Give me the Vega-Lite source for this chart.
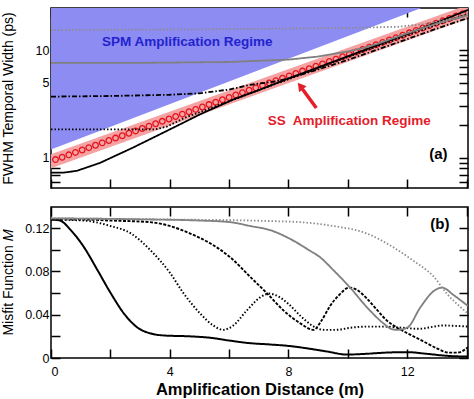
{
  "$schema": "https://vega.github.io/schema/vega-lite/v6.json",
  "autosize": {"type": "pad"},
  "padding": {"left": 0, "top": 6, "right": 5, "bottom": 0},
  "background": "white",
  "spacing": 15,
  "config": {
    "view": {"stroke": "black", "strokeWidth": 1.5},
    "font": "Liberation Sans",
    "axis": {
      "domain": false, "grid": false,
      "tickColor": "black", "tickWidth": 1.5, "tickSize": -9,
      "labelFont": "Liberation Sans", "labelFontSize": 12.5, "labelColor": "black",
      "titleFont": "Liberation Sans", "titleFontSize": 14, "titleFontWeight": "normal", "titleColor": "black"
    }
  },
  "resolve": {"scale": {"color": "independent", "strokeDash": "independent", "strokeWidth": "independent"}},
  "datasets": {
    "blue": [{"x": 0, "lo": 1.2, "hi": 40}, {"x": 14.05, "lo": 35.8, "hi": 40}],
    "band": [{"x": 0, "lo": 0.804, "hi": 1.082}, {"x": 7, "lo": 3.935, "hi": 5.295}, {"x": 14.05, "lo": 19.5, "hi": 26.2}],
    "circles": [
      {"x": 0.15, "y": 0.966}, {"x": 0.375, "y": 1.016}, {"x": 0.6, "y": 1.069}, {"x": 0.825, "y": 1.126},
      {"x": 1.05, "y": 1.184}, {"x": 1.275, "y": 1.246}, {"x": 1.5, "y": 1.311}, {"x": 1.725, "y": 1.38},
      {"x": 1.95, "y": 1.453}, {"x": 2.175, "y": 1.529}, {"x": 2.4, "y": 1.608}, {"x": 2.625, "y": 1.693},
      {"x": 2.85, "y": 1.781}, {"x": 3.075, "y": 1.875}, {"x": 3.3, "y": 1.973}, {"x": 3.525, "y": 2.076},
      {"x": 3.75, "y": 2.185}, {"x": 3.975, "y": 2.299}, {"x": 4.2, "y": 2.42}, {"x": 4.425, "y": 2.546},
      {"x": 4.65, "y": 2.679}, {"x": 4.875, "y": 2.82}, {"x": 5.1, "y": 2.967}, {"x": 5.325, "y": 3.123},
      {"x": 5.55, "y": 3.286}, {"x": 5.775, "y": 3.458}, {"x": 6.0, "y": 3.639}, {"x": 6.225, "y": 3.83},
      {"x": 6.45, "y": 4.03}, {"x": 6.675, "y": 4.241}, {"x": 6.9, "y": 4.463}, {"x": 7.125, "y": 4.697},
      {"x": 7.35, "y": 4.943}, {"x": 7.575, "y": 5.202}, {"x": 7.8, "y": 5.474}, {"x": 8.025, "y": 5.761},
      {"x": 8.25, "y": 6.062}, {"x": 8.475, "y": 6.38}, {"x": 8.7, "y": 6.714}, {"x": 8.925, "y": 7.065},
      {"x": 9.15, "y": 7.435}, {"x": 9.375, "y": 7.824}, {"x": 9.6, "y": 8.234}, {"x": 9.825, "y": 8.665},
      {"x": 10.05, "y": 9.118}, {"x": 10.275, "y": 9.596}, {"x": 10.5, "y": 10.1}, {"x": 10.725, "y": 10.63},
      {"x": 10.95, "y": 11.18}, {"x": 11.175, "y": 11.77}, {"x": 11.4, "y": 12.38}, {"x": 11.625, "y": 13.03},
      {"x": 11.85, "y": 13.72}, {"x": 12.075, "y": 14.43}, {"x": 12.3, "y": 15.19}, {"x": 12.525, "y": 15.99},
      {"x": 12.75, "y": 16.82}, {"x": 12.975, "y": 17.7}, {"x": 13.2, "y": 18.63}, {"x": 13.425, "y": 19.61},
      {"x": 13.65, "y": 20.63}, {"x": 13.875, "y": 21.71}
    ],
    "width": [
      {"s": "A", "x": 0, "y": 0.73}, {"s": "A", "x": 0.4, "y": 0.73}, {"s": "A", "x": 0.87, "y": 0.76}, {"s": "A", "x": 1.65, "y": 0.9},
      {"s": "A", "x": 2.77, "y": 1.25}, {"s": "A", "x": 3.9, "y": 1.78}, {"s": "A", "x": 5.03, "y": 2.54}, {"s": "A", "x": 6.15, "y": 3.49},
      {"s": "A", "x": 7, "y": 4.25}, {"s": "A", "x": 8, "y": 5.45}, {"s": "A", "x": 9, "y": 6.9}, {"s": "A", "x": 10, "y": 8.75},
      {"s": "A", "x": 11, "y": 11.1}, {"s": "A", "x": 12, "y": 14.1}, {"s": "A", "x": 13, "y": 18}, {"s": "A", "x": 14.05, "y": 23.5},
      {"s": "B", "x": 0, "y": 1.84}, {"s": "B", "x": 3.5, "y": 1.84}, {"s": "B", "x": 3.9, "y": 1.95}, {"s": "B", "x": 4.5, "y": 2.35},
      {"s": "B", "x": 5, "y": 2.65}, {"s": "B", "x": 6, "y": 3.35}, {"s": "B", "x": 7, "y": 4.25}, {"s": "B", "x": 8, "y": 5.35},
      {"s": "B", "x": 9, "y": 6.8}, {"s": "B", "x": 10, "y": 8.6}, {"s": "B", "x": 11, "y": 10.8}, {"s": "B", "x": 12, "y": 13.6},
      {"s": "B", "x": 13, "y": 17.2}, {"s": "B", "x": 14.05, "y": 21.5},
      {"s": "C", "x": 0, "y": 3.7}, {"s": "C", "x": 2, "y": 3.75}, {"s": "C", "x": 4, "y": 3.85}, {"s": "C", "x": 5, "y": 3.97},
      {"s": "C", "x": 6, "y": 4.3}, {"s": "C", "x": 6.7, "y": 4.75}, {"s": "C", "x": 7.5, "y": 5.1}, {"s": "C", "x": 8, "y": 5.45},
      {"s": "C", "x": 9, "y": 6.6}, {"s": "C", "x": 10, "y": 8.1}, {"s": "C", "x": 11, "y": 10.1}, {"s": "C", "x": 12, "y": 12.6},
      {"s": "C", "x": 13, "y": 15.8}, {"s": "C", "x": 14.05, "y": 19.8},
      {"s": "D", "x": 0, "y": 7.6}, {"s": "D", "x": 3, "y": 7.6}, {"s": "D", "x": 6, "y": 7.75}, {"s": "D", "x": 8, "y": 8.15},
      {"s": "D", "x": 9, "y": 8.7}, {"s": "D", "x": 10, "y": 9.7}, {"s": "D", "x": 10.5, "y": 10.4}, {"s": "D", "x": 11, "y": 11.4},
      {"s": "D", "x": 12, "y": 14.3}, {"s": "D", "x": 13, "y": 17.6}, {"s": "D", "x": 14.05, "y": 21},
      {"s": "E", "x": 0, "y": 15.3}, {"s": "E", "x": 6, "y": 15.6}, {"s": "E", "x": 10, "y": 16}, {"s": "E", "x": 11.66, "y": 16.4},
      {"s": "E", "x": 12.5, "y": 17.3}, {"s": "E", "x": 13.45, "y": 19.3}, {"s": "E", "x": 14.05, "y": 22}
    ],
    "misfit": [
      {"s": "A", "x": 0, "y": 0.128}, {"s": "A", "x": 0.3, "y": 0.127}, {"s": "A", "x": 0.67, "y": 0.118}, {"s": "A", "x": 1.12, "y": 0.102},
      {"s": "A", "x": 1.57, "y": 0.081}, {"s": "A", "x": 2.01, "y": 0.06}, {"s": "A", "x": 2.46, "y": 0.041}, {"s": "A", "x": 2.92, "y": 0.028},
      {"s": "A", "x": 3.37, "y": 0.0226}, {"s": "A", "x": 3.82, "y": 0.0208}, {"s": "A", "x": 4.69, "y": 0.02}, {"s": "A", "x": 5.36, "y": 0.0187},
      {"s": "A", "x": 6.04, "y": 0.016}, {"s": "A", "x": 6.71, "y": 0.0137}, {"s": "A", "x": 7.38, "y": 0.0125}, {"s": "A", "x": 8.06, "y": 0.011},
      {"s": "A", "x": 8.73, "y": 0.0085}, {"s": "A", "x": 9.3, "y": 0.006}, {"s": "A", "x": 9.97, "y": 0.0032}, {"s": "A", "x": 10.64, "y": 0.0039},
      {"s": "A", "x": 11.3, "y": 0.005}, {"s": "A", "x": 12.0, "y": 0.0054}, {"s": "A", "x": 12.65, "y": 0.0039}, {"s": "A", "x": 13.35, "y": 0.002},
      {"s": "A", "x": 14.05, "y": 0.0013},
      {"s": "B", "x": 0, "y": 0.128}, {"s": "B", "x": 1.1, "y": 0.127}, {"s": "B", "x": 2.0, "y": 0.122}, {"s": "B", "x": 2.7, "y": 0.115},
      {"s": "B", "x": 3.37, "y": 0.099}, {"s": "B", "x": 4.0, "y": 0.079}, {"s": "B", "x": 4.46, "y": 0.06}, {"s": "B", "x": 5.03, "y": 0.041},
      {"s": "B", "x": 5.47, "y": 0.03}, {"s": "B", "x": 5.8, "y": 0.026}, {"s": "B", "x": 6.14, "y": 0.03}, {"s": "B", "x": 6.6, "y": 0.044},
      {"s": "B", "x": 7.05, "y": 0.056}, {"s": "B", "x": 7.35, "y": 0.0595}, {"s": "B", "x": 7.65, "y": 0.057}, {"s": "B", "x": 8.0, "y": 0.05},
      {"s": "B", "x": 8.4, "y": 0.039}, {"s": "B", "x": 8.8, "y": 0.03}, {"s": "B", "x": 9.2, "y": 0.026}, {"s": "B", "x": 9.6, "y": 0.026},
      {"s": "B", "x": 10.1, "y": 0.028}, {"s": "B", "x": 10.6, "y": 0.029}, {"s": "B", "x": 11.2, "y": 0.029}, {"s": "B", "x": 11.8, "y": 0.028},
      {"s": "B", "x": 12.4, "y": 0.027}, {"s": "B", "x": 13.2, "y": 0.03}, {"s": "B", "x": 14.05, "y": 0.029},
      {"s": "C", "x": 0, "y": 0.128}, {"s": "C", "x": 1, "y": 0.128}, {"s": "C", "x": 2, "y": 0.127}, {"s": "C", "x": 3.34, "y": 0.1255},
      {"s": "C", "x": 4.0, "y": 0.122}, {"s": "C", "x": 4.69, "y": 0.115}, {"s": "C", "x": 5.36, "y": 0.106}, {"s": "C", "x": 6.04, "y": 0.093},
      {"s": "C", "x": 6.71, "y": 0.075}, {"s": "C", "x": 7.27, "y": 0.06}, {"s": "C", "x": 7.83, "y": 0.044}, {"s": "C", "x": 8.4, "y": 0.032},
      {"s": "C", "x": 8.85, "y": 0.026}, {"s": "C", "x": 9.1, "y": 0.034}, {"s": "C", "x": 9.4, "y": 0.048}, {"s": "C", "x": 9.7, "y": 0.058},
      {"s": "C", "x": 10.05, "y": 0.065}, {"s": "C", "x": 10.3, "y": 0.063}, {"s": "C", "x": 10.64, "y": 0.055}, {"s": "C", "x": 11.0, "y": 0.044},
      {"s": "C", "x": 11.3, "y": 0.035}, {"s": "C", "x": 11.6, "y": 0.029}, {"s": "C", "x": 12.0, "y": 0.023}, {"s": "C", "x": 12.5, "y": 0.016},
      {"s": "C", "x": 13.0, "y": 0.009}, {"s": "C", "x": 13.4, "y": 0.005}, {"s": "C", "x": 13.7, "y": 0.005}, {"s": "C", "x": 14.05, "y": 0.01},
      {"s": "D", "x": 0, "y": 0.129}, {"s": "D", "x": 3.3, "y": 0.128}, {"s": "D", "x": 5, "y": 0.127}, {"s": "D", "x": 6.04, "y": 0.1255},
      {"s": "D", "x": 6.7, "y": 0.122}, {"s": "D", "x": 7.4, "y": 0.118}, {"s": "D", "x": 8.06, "y": 0.11}, {"s": "D", "x": 8.73, "y": 0.099},
      {"s": "D", "x": 9.07, "y": 0.093}, {"s": "D", "x": 9.52, "y": 0.081}, {"s": "D", "x": 10.08, "y": 0.065}, {"s": "D", "x": 10.64, "y": 0.047},
      {"s": "D", "x": 11.2, "y": 0.032}, {"s": "D", "x": 11.45, "y": 0.027}, {"s": "D", "x": 11.65, "y": 0.026}, {"s": "D", "x": 12.0, "y": 0.028},
      {"s": "D", "x": 12.45, "y": 0.047}, {"s": "D", "x": 12.9, "y": 0.062}, {"s": "D", "x": 13.18, "y": 0.065}, {"s": "D", "x": 13.57, "y": 0.058},
      {"s": "D", "x": 14.05, "y": 0.048},
      {"s": "E", "x": 0, "y": 0.129}, {"s": "E", "x": 4, "y": 0.128}, {"s": "E", "x": 7.4, "y": 0.1265}, {"s": "E", "x": 8.4, "y": 0.1255},
      {"s": "E", "x": 9.5, "y": 0.122}, {"s": "E", "x": 10.64, "y": 0.115}, {"s": "E", "x": 11.55, "y": 0.102}, {"s": "E", "x": 12.2, "y": 0.09},
      {"s": "E", "x": 12.9, "y": 0.075}, {"s": "E", "x": 13.35, "y": 0.059}, {"s": "E", "x": 13.8, "y": 0.047}, {"s": "E", "x": 14.05, "y": 0.041}
    ]
  },
  "vconcat": [
    {
      "width": 417, "height": 180,
      "resolve": {"axis": {"x": "independent", "y": "independent"}},
      "layer": [
        {
          "data": {"name": "blue"},
          "mark": {"type": "area", "color": "#8c8cf2", "opacity": 1, "clip": true},
          "encoding": {
            "x": {"field": "x", "type": "quantitative", "scale": {"domain": [0, 14.05], "nice": false, "zero": false},
                  "axis": {"orient": "bottom", "values": [0, 2, 4, 6, 8, 10, 12, 14], "labels": false, "title": null}},
            "y": {"field": "lo", "type": "quantitative", "scale": {"type": "log", "domain": [0.527, 24.5], "nice": false},
                  "axis": {"orient": "left", "values": [0.6, 0.7, 0.8, 0.9, 1, 2, 3, 4, 5, 6, 7, 8, 9, 10, 20],
                           "format": "~g", "labelExpr": "datum.value == 1 || datum.value == 5 || datum.value == 10 ? datum.label : ''",
                           "labelPadding": 11, "title": "FWHM Temporal Width (ps)", "titleX": -50, "titleY": 90, "titleBaseline": "top", "titleAngle": -90}},
            "y2": {"field": "hi"}
          }
        },
        {
          "data": {"name": "band"},
          "mark": {"type": "area", "color": "#f4a2a2", "opacity": 1, "clip": true},
          "encoding": {
            "x": {"field": "x", "type": "quantitative", "axis": null},
            "y": {"field": "lo", "type": "quantitative", "axis": null},
            "y2": {"field": "hi"}
          }
        },
        {
          "data": {"name": "circles"},
          "mark": {"type": "point", "shape": "circle", "filled": false, "stroke": "#e5121c", "strokeWidth": 1.3, "size": 32, "opacity": 1, "clip": true},
          "encoding": {
            "x": {"field": "x", "type": "quantitative", "axis": null},
            "y": {"field": "y", "type": "quantitative", "axis": null}
          }
        },
        {
          "data": {"name": "width"},
          "mark": {"type": "line", "clip": true},
          "encoding": {
            "x": {"field": "x", "type": "quantitative",
                  "axis": {"orient": "top", "values": [0, 2, 4, 6, 8, 10, 12, 14], "labels": false, "title": null}},
            "y": {"field": "y", "type": "quantitative",
                  "axis": {"orient": "right", "values": [0.6, 0.7, 0.8, 0.9, 1, 2, 3, 4, 5, 6, 7, 8, 9, 10, 20], "labels": false, "title": null}},
            "detail": {"field": "s"},
            "color": {"field": "s", "type": "nominal", "legend": null,
                      "scale": {"domain": ["A", "B", "C", "D", "E"], "range": ["#000000", "#000000", "#000000", "#808080", "#8c8c8c"]}},
            "strokeDash": {"field": "s", "type": "nominal", "legend": null,
                           "scale": {"domain": ["A", "B", "C", "D", "E"], "range": [[1, 0], [1.5, 2], [5, 2, 1.5, 2], [1, 0], [1.5, 2]]}},
            "strokeWidth": {"field": "s", "type": "nominal", "legend": null,
                            "scale": {"domain": ["A", "B", "C", "D", "E"], "range": [1.8, 1.8, 1.8, 1.5, 1.4]}}
          }
        },
        {
          "data": {"values": [{"x": 4.59, "y": 11.8, "t": "SPM Amplification Regime"}]},
          "mark": {"type": "text", "font": "Liberation Sans", "fontWeight": "bold", "fontSize": 13.5, "color": "#2323cf", "align": "center", "baseline": "middle"},
          "encoding": {
            "x": {"field": "x", "type": "quantitative", "axis": null},
            "y": {"field": "y", "type": "quantitative", "axis": null},
            "text": {"field": "t"}
          }
        },
        {
          "data": {"values": [{"x": 10.05, "y": 2.2, "t": "SS\u00a0 Amplification Regime"}]},
          "mark": {"type": "text", "font": "Liberation Sans", "fontWeight": "bold", "fontSize": 13.5, "color": "#e3202a", "align": "center", "baseline": "middle"},
          "encoding": {
            "x": {"field": "x", "type": "quantitative", "axis": null},
            "y": {"field": "y", "type": "quantitative", "axis": null},
            "text": {"field": "t"}
          }
        },
        {
          "data": {"values": [{"x": 8.94, "y": 2.9, "x2": 8.47, "y2": 4.35}]},
          "mark": {"type": "rule", "color": "#e3202a", "strokeWidth": 3.5},
          "encoding": {
            "x": {"field": "x", "type": "quantitative", "axis": null},
            "y": {"field": "y", "type": "quantitative", "axis": null},
            "x2": {"field": "x2"},
            "y2": {"field": "y2"}
          }
        },
        {
          "data": {"values": [{"x": 8.4, "y": 4.64}]},
          "mark": {"type": "point", "shape": "triangle-up", "filled": true, "color": "#e3202a", "size": 90, "angle": 322, "opacity": 1},
          "encoding": {
            "x": {"field": "x", "type": "quantitative", "axis": null},
            "y": {"field": "y", "type": "quantitative", "axis": null}
          }
        },
        {
          "data": {"values": [{"x": 13.05, "y": 1.09, "t": "(a)"}]},
          "mark": {"type": "text", "font": "Liberation Sans", "fontWeight": "bold", "fontSize": 15, "color": "#000000", "align": "center", "baseline": "middle"},
          "encoding": {
            "x": {"field": "x", "type": "quantitative", "axis": null},
            "y": {"field": "y", "type": "quantitative", "axis": null},
            "text": {"field": "t"}
          }
        }
      ]
    },
    {
      "width": 417, "height": 151,
      "resolve": {"axis": {"x": "independent", "y": "independent"}},
      "layer": [
        {
          "data": {"name": "misfit"},
          "mark": {"type": "line", "clip": true, "interpolate": "monotone"},
          "encoding": {
            "x": {"field": "x", "type": "quantitative", "scale": {"domain": [0, 14.05], "nice": false, "zero": false},
                  "axis": {"orient": "bottom", "values": [0, 2, 4, 6, 8, 10, 12, 14], "format": "~g",
                           "labelExpr": "datum.value % 4 == 0 ? datum.label : ''", "labelPadding": 16,
                           "title": "Amplification Distance (m)", "titleFontSize": 16.5, "titleFontWeight": "bold", "titlePadding": 4}},
            "y": {"field": "y", "type": "quantitative", "scale": {"domain": [0, 0.1395], "nice": false},
                  "axis": {"orient": "left", "values": [0, 0.02, 0.04, 0.06, 0.08, 0.1, 0.12], "format": "~g",
                           "labelExpr": "round(datum.value * 100) % 4 == 0 ? datum.label : ''", "labelPadding": 11,
                           "title": "Misfit Function  𝑀", "titleX": -50, "titleY": 75, "titleBaseline": "top", "titleAngle": -90}},
            "detail": {"field": "s"},
            "color": {"field": "s", "type": "nominal", "legend": null,
                      "scale": {"domain": ["A", "B", "C", "D", "E"], "range": ["#000000", "#000000", "#000000", "#808080", "#8c8c8c"]}},
            "strokeDash": {"field": "s", "type": "nominal", "legend": null,
                           "scale": {"domain": ["A", "B", "C", "D", "E"], "range": [[1, 0], [1.5, 2], [3, 1.5], [1, 0], [1.5, 2]]}},
            "strokeWidth": {"field": "s", "type": "nominal", "legend": null,
                            "scale": {"domain": ["A", "B", "C", "D", "E"], "range": [2, 1.8, 1.8, 1.8, 1.4]}}
          }
        },
        {
          "data": {"values": [{"x": 13.1, "y": 0.124, "t": "(b)"}]},
          "mark": {"type": "text", "font": "Liberation Sans", "fontWeight": "bold", "fontSize": 15, "color": "#000000", "align": "center", "baseline": "middle"},
          "encoding": {
            "x": {"field": "x", "type": "quantitative",
                  "axis": {"orient": "top", "values": [0, 2, 4, 6, 8, 10, 12, 14], "labels": false, "title": null}},
            "y": {"field": "y", "type": "quantitative",
                  "axis": {"orient": "right", "values": [0, 0.02, 0.04, 0.06, 0.08, 0.1, 0.12], "labels": false, "title": null}},
            "text": {"field": "t"}
          }
        }
      ]
    }
  ]
}
